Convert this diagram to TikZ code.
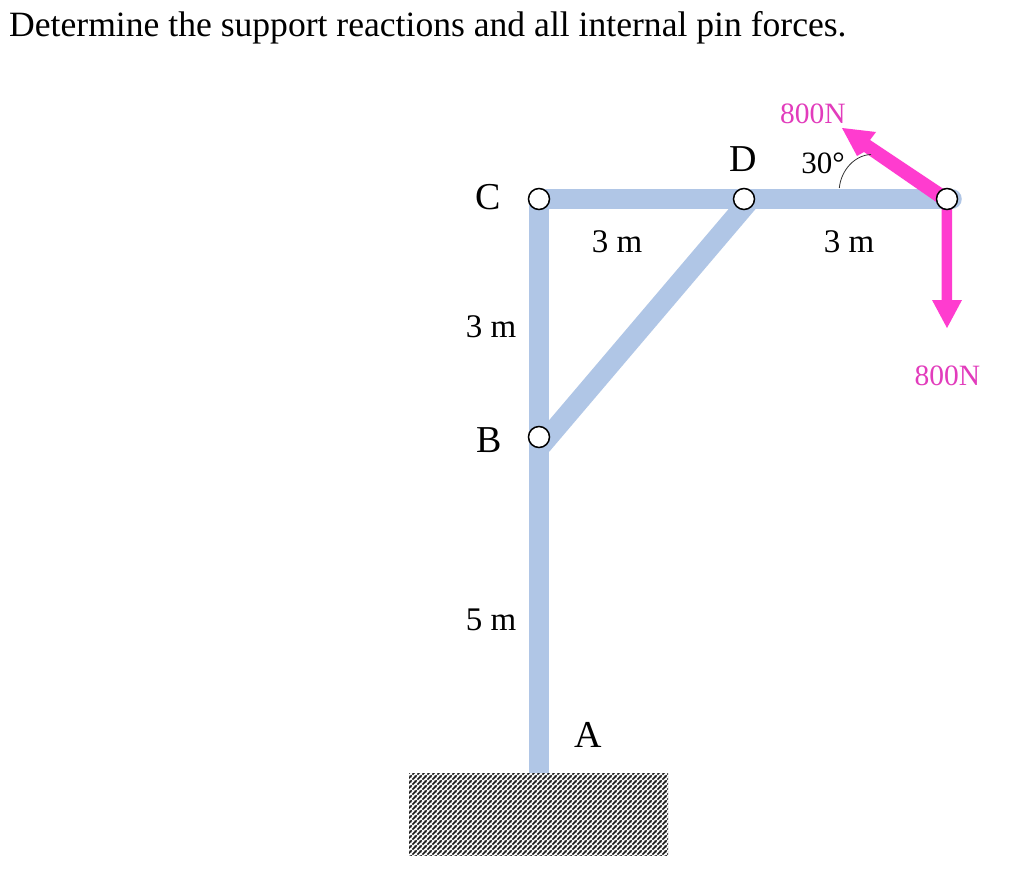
\documentclass[tikz,border=0pt]{standalone}
\usepackage{fontspec}
\setmainfont{Liberation Serif}
\usetikzlibrary{patterns,calc}
\definecolor{barblue}{HTML}{B0C6E6}
\definecolor{forcepink}{HTML}{FF3CCF}
\definecolor{labelpink}{HTML}{E23CBC}
\pgfdeclarepatternformonly{groundhatch}{\pgfqpoint{0pt}{0pt}}{\pgfqpoint{5pt}{5pt}}{\pgfqpoint{5pt}{5pt}}{%
  \pgfsetlinewidth{2pt}
  \pgfpathmoveto{\pgfqpoint{-1pt}{-1pt}}\pgfpathlineto{\pgfqpoint{6pt}{6pt}}\pgfusepath{stroke}
  \pgfpathmoveto{\pgfqpoint{-1pt}{4pt}}\pgfpathlineto{\pgfqpoint{1pt}{6pt}}\pgfusepath{stroke}
  \pgfpathmoveto{\pgfqpoint{4pt}{-1pt}}\pgfpathlineto{\pgfqpoint{6pt}{1pt}}\pgfusepath{stroke}
}
\pgfdeclarepatternformonly{groundbreak}{\pgfqpoint{0pt}{0pt}}{\pgfqpoint{5pt}{5pt}}{\pgfqpoint{5pt}{5pt}}{%
  \pgfsetlinewidth{0.8pt}
  \pgfpathmoveto{\pgfqpoint{-1pt}{6pt}}\pgfpathlineto{\pgfqpoint{6pt}{-1pt}}\pgfusepath{stroke}
}
\tikzset{
  bar/.style={draw=barblue,line width=20.5pt},
  pin/.style={circle,draw=black,fill=white,line width=1.5pt,minimum size=21pt,inner sep=0pt},
  lbl/.style={inner sep=0pt,font=\fontsize{33pt}{33pt}\selectfont,text=black},
  letter/.style={inner sep=0pt,font=\fontsize{38pt}{38pt}\selectfont,text=black},
  force/.style={inner sep=0pt,font=\fontsize{29.5pt}{30pt}\selectfont,text=labelpink},
  forcearrow/.style={fill=forcepink,draw=none},
}
\begin{document}
\begin{tikzpicture}[x=1pt,y=-1pt]
\useasboundingbox (0,0) rectangle (1024,891);
\fill[white] (0,0) rectangle (1024,891);
% ground
\path[pattern=groundhatch,pattern color=black!90] (409,773) rectangle (668,855);
\path[pattern=groundbreak,pattern color=white] (409,773) rectangle (668,855);
% named points
\coordinate (foot) at (539,773);
\coordinate (barend) at (951.5,199);
\coordinate (diagB) at (541.5,445);
\coordinate (diagD) at (750.6,199);
% members
\draw[bar] (foot) -- (539,199);
\draw[bar] (539,199) -- (barend);
\draw[bar,line cap=round] (900,199) -- (barend);
\draw[bar] (diagB) -- (diagD);
% forces
\fill[forcearrow] (842,128) -- (876,132) -- (870,140) -- (945,190) -- (937,202.5) -- (864,152) -- (857,156) -- cycle;
\fill[forcearrow] (941.5,205) -- (952,205) -- (952,300) -- (962,300) -- (947,328) -- (932,300) -- (941.5,300) -- cycle;
% angle arc
\draw[line width=0.8pt,black!80] (839.3,188) .. controls (841,170) and (855,155) .. (871,154.5);
% pins
\node[pin] (C) at (539,199) {};
\node[pin] (D) at (744,199) {};
\node[pin] (E) at (947,199) {};
\node[pin] (B) at (539,437) {};
% text
\node[anchor=base west,inner sep=0pt,font=\fontsize{35.6pt}{36pt}\selectfont,text=black] (title) at (9,37) {Determine the support reactions and all internal pin forces.};
\node[letter,anchor=base] (lC) at (488,209) {C};
\node[letter,anchor=base] (lD) at (743,171) {D};
\node[letter,anchor=base] (lB) at (489,452) {B};
\node[letter,anchor=base] (lA) at (588,747) {A};
\node[lbl,anchor=base] (d1) at (617,252) {3 m};
\node[lbl,anchor=base] (d2) at (849,252) {3 m};
\node[lbl,anchor=base] (d3) at (491,337) {3 m};
\node[lbl,anchor=base] (d4) at (491,630) {5 m};
\node[force,anchor=base] (f1) at (813,123) {800N};
\node[force,anchor=base] (f2) at (947.5,385) {800N};
\node[anchor=base,inner sep=0pt,font=\fontsize{31pt}{31pt}\selectfont,text=black] (ang) at (823,173) {30°};
\end{tikzpicture}
\end{document}
